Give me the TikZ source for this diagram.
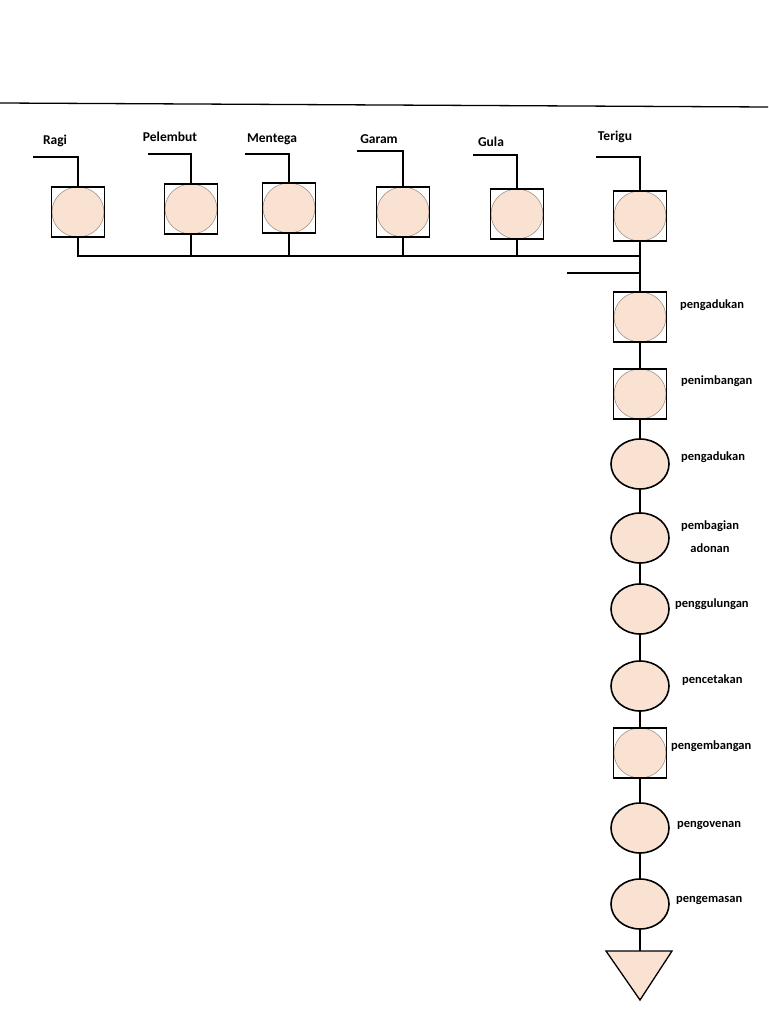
\documentclass[tikz,border=0pt]{standalone}
\usepackage{fontspec}
\setmainfont{Carlito}
\usetikzlibrary{shapes.geometric}
\definecolor{peach}{RGB}{250,226,211}
\definecolor{rimgray}{RGB}{150,130,120}
\begin{document}
\begin{tikzpicture}[x=1pt,y=-1pt,
  conn/.style={line width=1.8pt},
  boxed/.style={draw, line width=1.1pt, fill=white, minimum width=53pt, minimum height=50pt, inner sep=0pt,
    path picture={\fill[peach, draw=rimgray, line width=0.5pt] (path picture bounding box.center) ellipse (26pt and 25pt);}},
  oval/.style={ellipse, draw, line width=1.6pt, fill=peach, minimum width=58pt, minimum height=50pt, inner sep=0pt},
  toplbl/.style={font=\bfseries\fontsize{13.5}{15}\selectfont, inner sep=0pt},
  sidelbl/.style={font=\bfseries\fontsize{12.5}{14}\selectfont, inner sep=0pt, anchor=west}
]
\useasboundingbox (0,0) rectangle (768,1024);
% top rule
\coordinate (ruleL) at (0,103);
\coordinate (ruleR) at (768,107);
\draw[line width=1.3pt] (ruleL) -- (ruleR);

% ingredient boxes
\node[boxed] (ragi) at (78,212) {};
\node[boxed] (pel) at (191,209) {};
\node[boxed] (ment) at (289,208) {};
\node[boxed] (garam) at (403,212) {};
\node[boxed] (gula) at (517,214) {};
\node[boxed] (terigu) at (640,216) {};

% labels
\node[toplbl] (lragi) at (55,141) {Ragi};
\node[toplbl] (lpel) at (170,137) {Pelembut};
\node[toplbl] (lment) at (272,139) {Mentega};
\node[toplbl] (lgaram) at (379,139) {Garam};
\node[toplbl] (lgula) at (491,142) {Gula};
\node[toplbl] (lterigu) at (615,137) {Terigu};

% leader lines
\coordinate (aragi) at (33,157);
\coordinate (apel) at (148,154);
\coordinate (ament) at (245,154);
\coordinate (agaram) at (357,151);
\coordinate (agula) at (473,155);
\coordinate (aterigu) at (596,157);
\draw[conn] (aragi) -| (ragi.north);
\draw[conn] (apel) -| (pel.north);
\draw[conn] (ament) -| (ment.north);
\draw[conn] (agaram) -| (garam.north);
\draw[conn] (agula) -| (gula.north);
\draw[conn] (aterigu) -| (terigu.north);

% bus
\coordinate (busR) at (640,256);
\draw[conn] (ragi.south) |- (busR);
\foreach \n in {pel,ment,garam,gula} \draw[conn] (\n.south) -- (\n.south |- busR);
\coordinate (side) at (567,273);

% process column
\node[boxed] (p1) at (640,317) {};
\node[boxed] (p2) at (640,394) {};
\node[oval] (p3) at (640,464) {};
\node[oval] (p4) at (640,538) {};
\node[oval] (p5) at (640,609) {};
\node[oval] (p6) at (640,686) {};
\node[boxed] (p7) at (640,753) {};
\node[oval] (p8) at (640,828) {};
\node[oval] (p9) at (640,904) {};

\coordinate (tritop) at (640,951);
\coordinate (triL) at (606,951);
\coordinate (triR) at (672,951);
\coordinate (tritip) at (640,1000);
\draw[line width=1.3pt, fill=peach, line join=miter] (triL) -- (triR) -- (tritip) -- cycle;

\draw[conn] (terigu.south) -- (p1.north);
\draw[conn] (side) -- (side -| terigu.south);
\draw[conn] (p1.south) -- (p2.north);
\draw[conn] (p2.south) -- (p3.north);
\draw[conn] (p3.south) -- (p4.north);
\draw[conn] (p4.south) -- (p5.north);
\draw[conn] (p5.south) -- (p6.north);
\draw[conn] (p6.south) -- (p7.north);
\draw[conn] (p7.south) -- (p8.north);
\draw[conn] (p8.south) -- (p9.north);
\draw[conn] (p9.south) -- (tritop);

% side labels
\node[sidelbl] (l1) at (680,305) {pengadukan};
\node[sidelbl] (l2) at (681,381) {penimbangan};
\node[sidelbl] (l3) at (681,457) {pengadukan};
\node[sidelbl, anchor=center] (l4a) at (710,526) {pembagian};
\node[sidelbl, anchor=center] (l4b) at (710,548) {adonan};
\node[sidelbl] (l5) at (675,604) {penggulungan};
\node[sidelbl] (l6) at (682,680) {pencetakan};
\node[sidelbl] (l7) at (671,746) {pengembangan};
\node[sidelbl] (l8) at (677,825) {pengovenan};
\node[sidelbl] (l9) at (676,900) {pengemasan};
\end{tikzpicture}
\end{document}
